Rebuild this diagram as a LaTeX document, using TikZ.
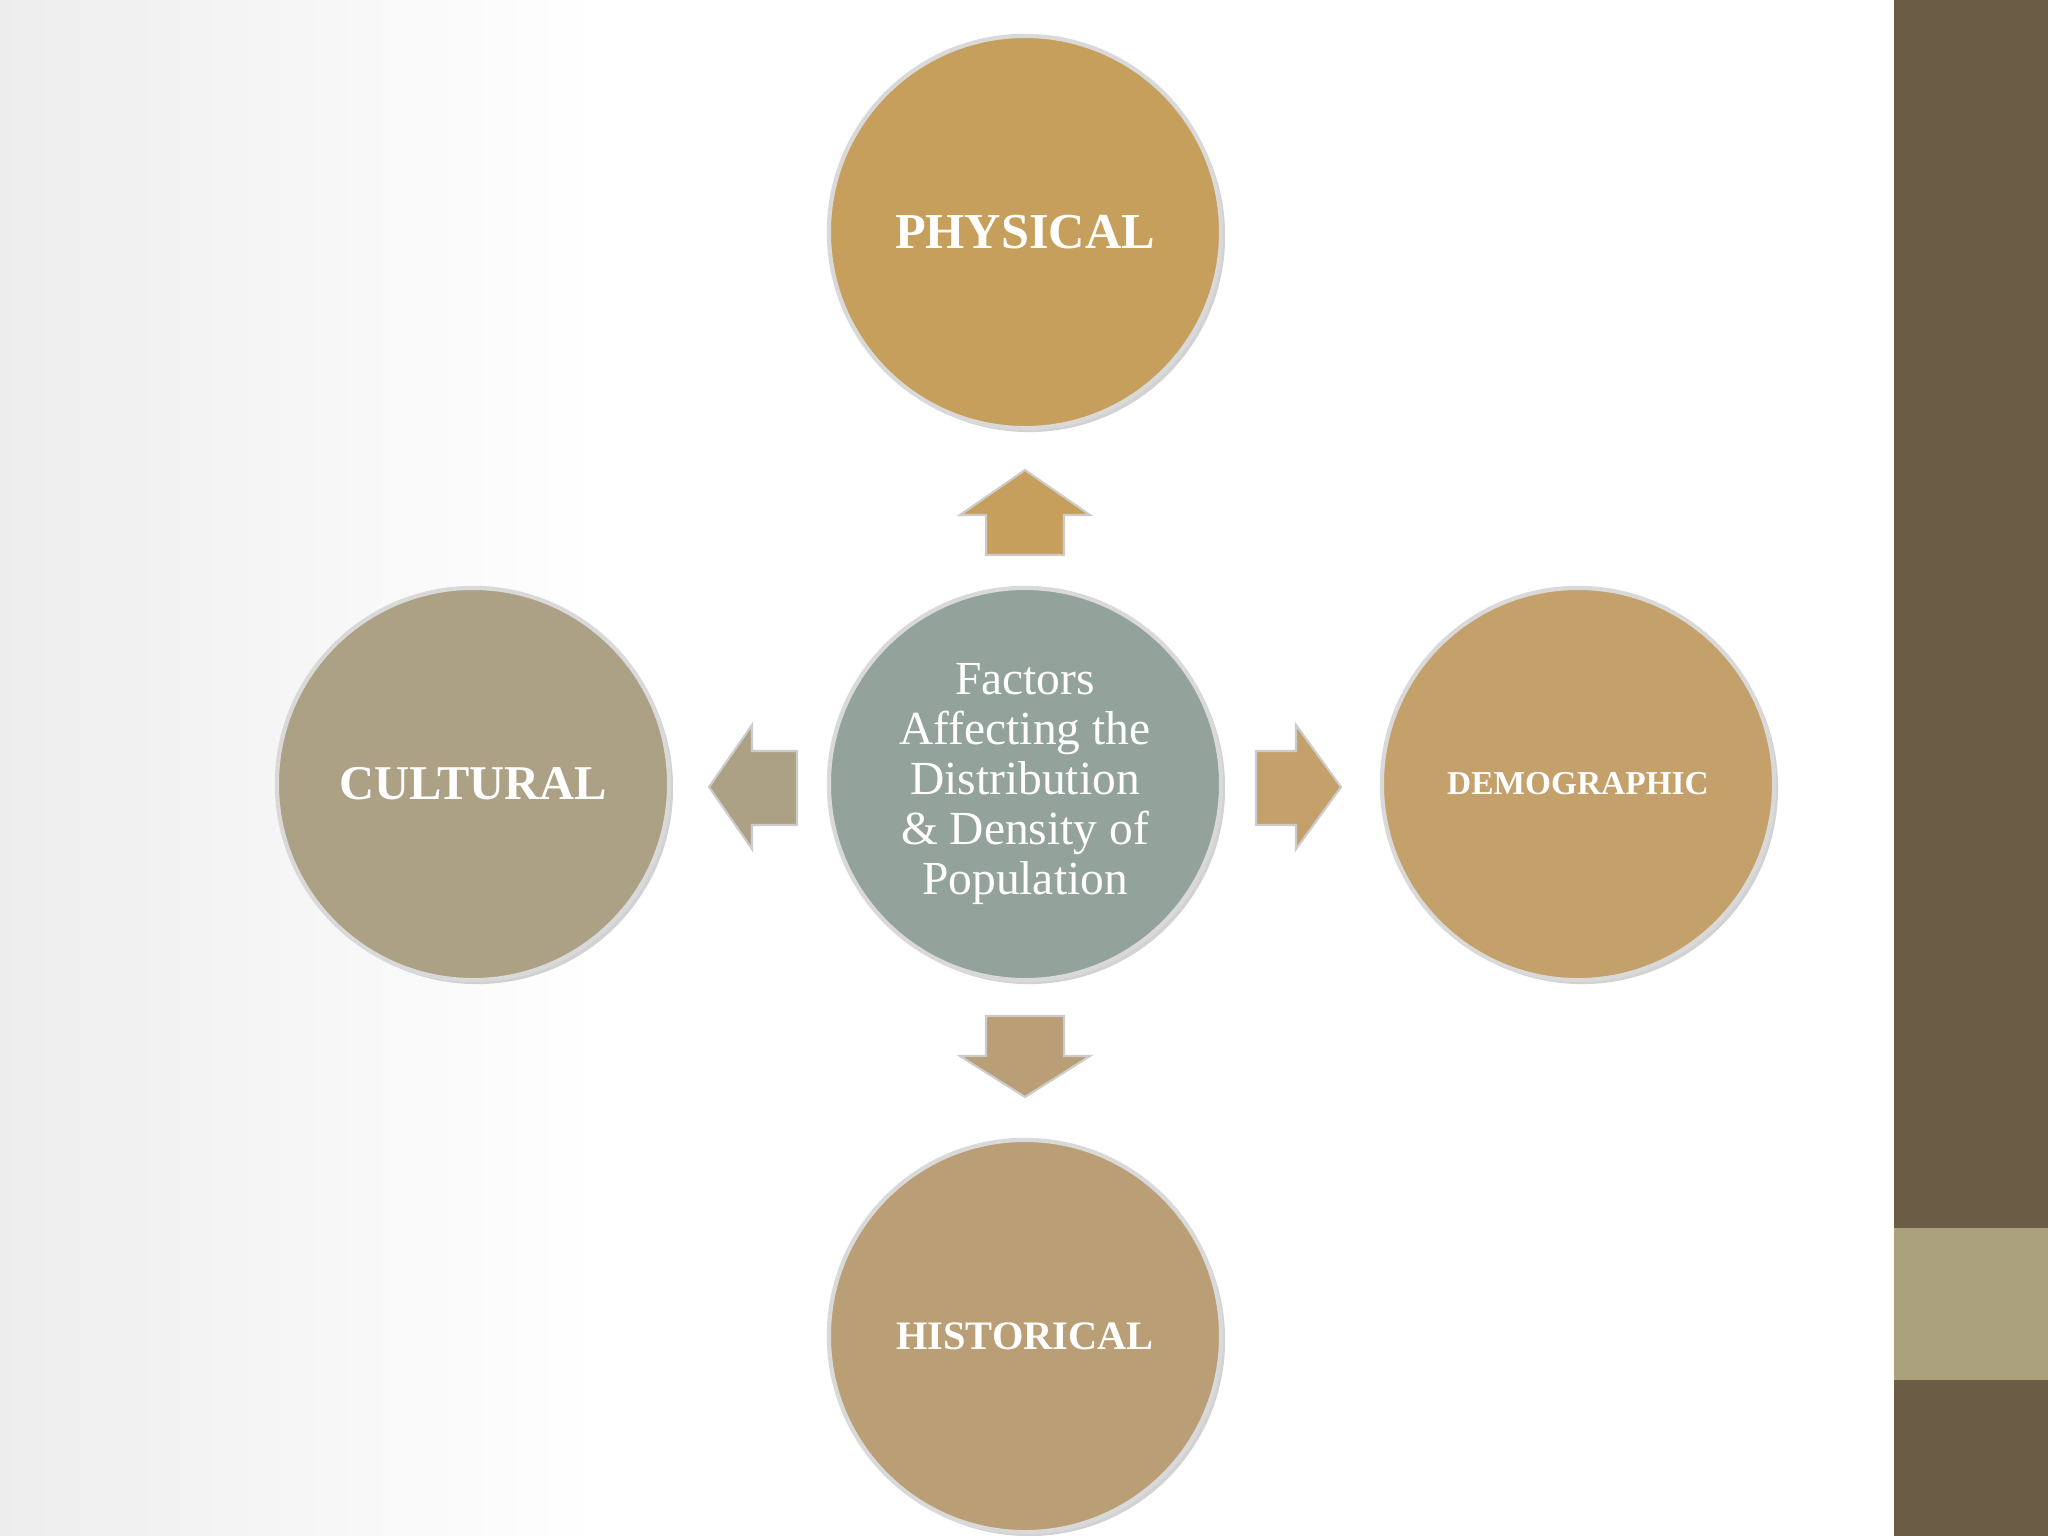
\documentclass[tikz,border=0pt]{standalone}
\usepackage{fontspec}
\setmainfont{Liberation Serif}
\usetikzlibrary{shadows}
\definecolor{barDark}{HTML}{6B5D45}
\definecolor{barLight}{HTML}{ABA27D}
\definecolor{cCenter}{HTML}{93A39C}
\definecolor{cPhys}{HTML}{C79F5C}
\definecolor{cDemo}{HTML}{C4A06A}
\definecolor{cCult}{HTML}{ACA085}
\definecolor{cHist}{HTML}{BA9E76}
\tikzset{
  bubble/.style={circle, minimum size=3.92cm, inner sep=0pt, draw=white!85!black, line width=1.2pt, text=white, align=center, drop shadow={opacity=0.35, shadow xshift=0.04cm, shadow yshift=-0.04cm}},
  arrowshape/.style={draw=white!80!black, line width=0.6pt}
}
\begin{document}
\begin{tikzpicture}[x=0.01cm,y=-0.01cm]
\useasboundingbox (0,0) rectangle (2048,1536);
\shade[left color=black!7, right color=white] (0,0) rectangle (600,1536);
\fill[white] (600,0) rectangle (1894,1536);
\fill[barDark] (1894,0) rectangle (2048,1536);
\fill[barLight] (1894,1228) rectangle (2048,1380);

\node[bubble, fill=cCenter, font=\fontsize{13.5}{14.2}\selectfont] (c) at (1025,784) {Factors\\Affecting the\\Distribution\\\& Density of\\Population};
\node[bubble, fill=cPhys, font=\fontsize{14.3}{17}\selectfont\bfseries] (p) at (1025,232) {PHYSICAL};
\node[bubble, fill=cDemo, font=\fontsize{9.5}{11}\selectfont\bfseries] (d) at (1578,784) {DEMOGRAPHIC};
\node[bubble, fill=cCult, font=\fontsize{13.8}{17}\selectfont\bfseries] (l) at (473,784) {CULTURAL};
\node[bubble, fill=cHist, font=\fontsize{11.5}{14}\selectfont\bfseries] (h) at (1025,1336) {HISTORICAL};

% up arrow
\fill[arrowshape, fill=cPhys] (986,555) -- (986,515) -- (960,515) -- (1025,470) -- (1090,515) -- (1064,515) -- (1064,555) -- cycle;
% right arrow
\fill[arrowshape, fill=cDemo] (1256,751) -- (1296,751) -- (1296,725) -- (1341,787) -- (1296,849) -- (1296,825) -- (1256,825) -- cycle;
% left arrow
\fill[arrowshape, fill=cCult] (797,751) -- (752,751) -- (752,725) -- (709,787) -- (752,849) -- (752,825) -- (797,825) -- cycle;
% down arrow
\fill[arrowshape, fill=cHist] (986,1016) -- (986,1056) -- (960,1056) -- (1025,1097) -- (1090,1056) -- (1064,1056) -- (1064,1016) -- cycle;
\end{tikzpicture}
\end{document}
